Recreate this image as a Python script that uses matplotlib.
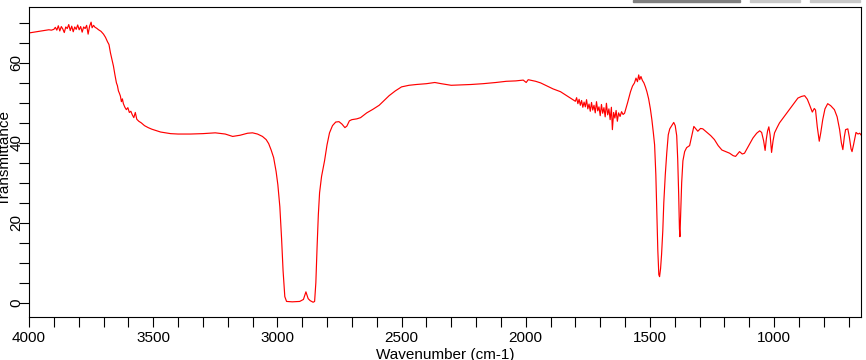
import matplotlib.pyplot as plt
from matplotlib.patches import Rectangle
from matplotlib.ticker import MultipleLocator

plt.rcParams['font.family'] = ['Liberation Sans', 'DejaVu Sans']

# IR spectrum: wavenumber (cm-1) and transmittance (%)
wavenumber = [
    4000, 3980, 3960, 3940, 3920, 3910,
    3900, 3894, 3888, 3882, 3876, 3870, 3864, 3858, 3852, 3846, 3840, 3834,
    3828, 3822, 3816, 3810, 3804, 3798, 3792, 3786, 3780, 3774, 3768, 3762,
    3756, 3750, 3746, 3740, 3734, 3728, 3720,
    3710, 3700, 3692, 3684, 3678, 3672, 3666, 3660, 3654, 3648, 3644, 3640,
    3636, 3632, 3628, 3624, 3620, 3614, 3608, 3602, 3596, 3590, 3584, 3578,
    3572, 3566, 3558, 3548, 3535, 3520, 3505, 3490, 3470, 3450, 3430,
    3400, 3350, 3300, 3250, 3210, 3180, 3150, 3120, 3100, 3080, 3060, 3045,
    3035, 3025, 3015, 3005, 2998, 2990, 2983, 2977, 2970, 2963, 2940, 2910,
    2895, 2885, 2876, 2868, 2856, 2850, 2845, 2840, 2835, 2830, 2822, 2810,
    2800, 2790, 2778, 2765, 2752, 2740, 2728, 2720, 2710, 2700, 2680, 2665,
    2640, 2615, 2590, 2570, 2550, 2525, 2500, 2470, 2440, 2400, 2366, 2340,
    2300, 2260, 2220, 2172, 2120, 2078, 2040, 2010, 1998, 1990, 1960, 1940,
    1917, 1890, 1860, 1840, 1820, 1800,
    1795, 1790, 1785, 1780, 1775, 1770, 1765, 1760, 1755, 1750, 1745, 1740,
    1735, 1730, 1725, 1720, 1715, 1710, 1705, 1700, 1695, 1690, 1685, 1680,
    1675, 1670, 1665, 1660, 1655, 1651, 1646, 1641, 1636, 1631, 1626, 1620,
    1614, 1608, 1602,
    1590, 1578, 1570, 1562, 1556, 1550, 1545, 1541, 1536, 1530, 1524, 1518,
    1512, 1505, 1498, 1492, 1486, 1481, 1476, 1472, 1468, 1464, 1461, 1457,
    1453, 1448, 1444, 1438, 1432, 1426, 1420, 1412, 1404, 1398, 1392, 1388,
    1384, 1381, 1379, 1376, 1372, 1367, 1360, 1352, 1340, 1332, 1323, 1315,
    1307, 1296, 1287, 1270, 1255, 1240, 1225, 1210, 1195, 1179, 1165, 1155,
    1139, 1128, 1119, 1100, 1085, 1070, 1058, 1050, 1042, 1036, 1031, 1026,
    1021, 1016, 1010, 1004, 998, 988, 978, 960, 938, 920, 904, 890,
    877, 866, 857, 846, 838, 833, 826, 818, 812, 804, 795, 784,
    772, 757, 746, 736, 729, 723, 717, 712, 703, 697, 690, 686,
    680, 670, 662, 655, 650,
]
transmittance = [
    67.5, 67.7, 67.9, 68.1, 68.3, 68.2,
    68.4, 68.9, 68.2, 69.3, 68.0, 69.1, 68.5, 67.6, 69.0, 68.6, 69.6, 68.1,
    69.2, 67.8, 69.0, 68.4, 69.5, 68.3, 69.1, 67.7, 69.0, 68.6, 69.4, 67.2,
    69.2, 70.2, 68.8, 69.4, 68.9, 68.7, 68.3,
    67.9, 67.2, 66.4, 65.3, 64.6, 62.5, 60.8, 59.2, 57.0, 55.0, 54.3, 53.0,
    52.4, 51.7, 50.3, 51.0, 49.8, 48.9, 48.3, 48.8, 47.6, 47.9, 47.0, 46.3,
    47.6, 45.9, 45.4, 45.0, 44.3, 43.8, 43.4, 43.1, 42.7, 42.5, 42.3,
    42.2, 42.2, 42.3, 42.5, 42.2, 41.6, 41.9, 42.4, 42.5, 42.2, 41.6, 40.8,
    39.8, 38.2, 36.3, 32.8, 29.5, 24.0, 16.0, 8.0, 1.5, 0.3, 0.2, 0.3,
    0.8, 2.7, 1.0, 0.5, 0.1, 0.3, 5.0, 14.0, 22.0, 27.5, 31.6, 35.5,
    39.5, 42.5, 44.3, 45.2, 45.3, 44.7, 43.8, 44.2, 45.5, 45.8, 46.0, 46.3,
    47.5, 48.4, 49.4, 50.6, 51.8, 53.0, 54.0, 54.4, 54.6, 54.8, 55.1, 54.8,
    54.4, 54.5, 54.6, 54.8, 55.1, 55.4, 55.5, 55.7, 55.1, 55.8, 55.4, 55.0,
    54.3, 53.5, 52.8, 52.0, 51.2, 50.4,
    51.3, 49.8, 50.9, 49.4, 50.6, 48.9, 50.2, 49.0, 50.8, 48.5, 49.7, 47.9,
    50.1, 48.2, 49.4, 47.5, 50.3, 48.0, 49.0, 46.8, 49.6, 47.4, 48.8, 46.5,
    49.9, 47.0, 48.5, 45.8, 48.9, 43.3, 47.6, 46.2, 48.1, 45.4, 47.5, 46.6,
    47.8, 47.1, 47.4,
    50.0, 52.8, 54.2, 55.0, 56.2, 55.3, 57.0, 55.8, 56.6, 55.6, 55.0, 54.0,
    52.8, 51.0, 48.5, 45.8, 42.5, 39.5, 32.0, 22.0, 13.0, 7.0, 6.5, 8.5,
    12.0, 18.0, 25.0, 32.0, 37.5, 42.0, 43.5, 44.3, 45.1, 44.3, 41.8, 36.0,
    27.0, 18.5, 16.5, 22.0, 30.0, 35.5, 37.8, 38.8, 39.3, 41.5, 44.1, 43.5,
    42.9, 43.6, 43.5, 42.6, 41.8, 40.8, 39.3, 38.2, 37.8, 37.4, 36.8, 36.6,
    37.8, 37.2, 37.4, 39.5, 41.2, 42.4, 43.0, 42.6, 40.5, 38.1, 41.0, 43.0,
    44.0, 42.0, 37.6, 40.5, 42.5, 43.8, 45.0, 46.5, 48.3, 49.8, 51.2, 51.6,
    51.8, 50.9, 49.5, 47.7, 48.6, 48.2, 44.0, 40.4, 42.5, 45.8, 48.5, 49.8,
    49.3, 48.3, 46.5, 43.3, 40.0, 38.3, 41.5, 43.3, 43.5, 41.5, 38.5, 37.8,
    39.5, 42.6, 42.2, 42.4, 42.0,
]

fig = plt.figure(figsize=(8.66, 3.6), dpi=100)
ax = fig.add_axes([0.0335, 0.1194, 0.9607, 0.8612])

ax.plot(wavenumber, transmittance, color='#ff0000', linewidth=0.85)

ax.set_xlim(4000, 650)
ax.set_ylim(-3.6, 74)
ax.xaxis.set_major_locator(MultipleLocator(500))
ax.xaxis.set_minor_locator(MultipleLocator(100))
ax.yaxis.set_major_locator(MultipleLocator(20))
ax.yaxis.set_minor_locator(MultipleLocator(5))
ax.tick_params(which='both', direction='out', length=7, width=0.8, labelsize=11)
ax.tick_params(axis='x', pad=3)
ax.tick_params(axis='y', pad=-3)
for lbl in ax.get_yticklabels():
    lbl.set_rotation(90)
    lbl.set_va('center')
for s in ax.spines.values():
    s.set_linewidth(0.8)

fig.text(445 / 866, 1 - 355 / 360, 'Wavenumber (cm-1)', ha='center', va='center', fontsize=11)
fig.text(5 / 866, 1 - 158 / 360, 'Transmittance', rotation=90, ha='center', va='center', fontsize=11)

# bits of toolbar buttons poking in at the top
for x0, x1, c in [(633, 740, '#808080'), (750, 800, '#c8c8c8'), (810, 860, '#c8c8c8')]:
    fig.patches.append(Rectangle((x0 / 866, 1 - 2 / 360), (x1 - x0) / 866, 2 / 360,
                                 transform=fig.transFigure, color=c, zorder=5))

fig.savefig('out.png', dpi=100)
